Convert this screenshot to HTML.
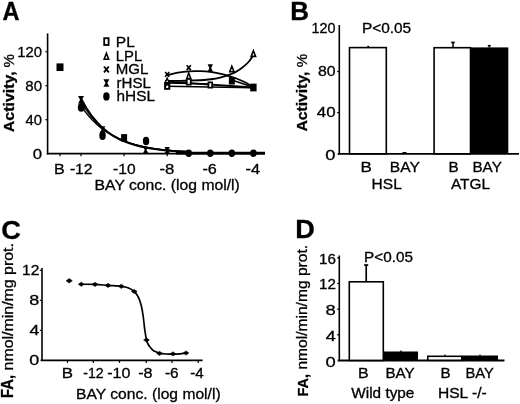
<!DOCTYPE html><html><head><meta charset="utf-8"><title>Figure</title><style>html,body{margin:0;padding:0;background:#fff}svg{display:block}text{fill:#000;stroke:#000;stroke-width:0.3px}</style></head><body>
<svg width="520" height="404" viewBox="0 0 520 404" font-family="Liberation Sans, Arial, sans-serif">
<rect width="520" height="404" fill="#fff"/>
<text x="2.60" y="20" font-size="25" textLength="17.00" lengthAdjust="spacingAndGlyphs" font-weight="bold">A</text>
<line x1="47.6" y1="33.4" x2="47.6" y2="154.5" stroke="#000" stroke-width="1.6"/>
<line x1="46.800000000000004" y1="153.7" x2="265" y2="153.7" stroke="#000" stroke-width="1.8"/>
<line x1="45.4" y1="119.69999999999999" x2="47.6" y2="119.69999999999999" stroke="#000" stroke-width="1.2"/>
<line x1="45.4" y1="85.69999999999999" x2="47.6" y2="85.69999999999999" stroke="#000" stroke-width="1.2"/>
<line x1="45.4" y1="51.69999999999999" x2="47.6" y2="51.69999999999999" stroke="#000" stroke-width="1.2"/>
<text x="17.18" y="57.0" font-size="15.2" textLength="24.82" lengthAdjust="spacingAndGlyphs">120</text>
<text x="25.29" y="90.7" font-size="15.2" textLength="16.72" lengthAdjust="spacingAndGlyphs">80</text>
<text x="25.54" y="124.7" font-size="15.2" textLength="16.46" lengthAdjust="spacingAndGlyphs">40</text>
<text x="32.69" y="158.8" font-size="15.2" textLength="9.32" lengthAdjust="spacingAndGlyphs">0</text>
<line x1="60" y1="153.7" x2="60" y2="156.29999999999998" stroke="#000" stroke-width="1.2"/>
<line x1="81.0" y1="153.7" x2="81.0" y2="156.29999999999998" stroke="#000" stroke-width="1.2"/>
<line x1="124.1" y1="153.7" x2="124.1" y2="156.29999999999998" stroke="#000" stroke-width="1.2"/>
<line x1="167.2" y1="153.7" x2="167.2" y2="156.29999999999998" stroke="#000" stroke-width="1.2"/>
<line x1="210.3" y1="153.7" x2="210.3" y2="156.29999999999998" stroke="#000" stroke-width="1.2"/>
<line x1="253.4" y1="153.7" x2="253.4" y2="156.29999999999998" stroke="#000" stroke-width="1.2"/>
<text x="54.10" y="173.6" font-size="15" textLength="10.70" lengthAdjust="spacingAndGlyphs">B</text>
<text x="69.90" y="173.6" font-size="15" textLength="22.70" lengthAdjust="spacingAndGlyphs">-12</text>
<text x="113.10" y="173.6" font-size="15" textLength="22.50" lengthAdjust="spacingAndGlyphs">-10</text>
<text x="159.40" y="173.6" font-size="15" textLength="14.90" lengthAdjust="spacingAndGlyphs">-8</text>
<text x="202.40" y="173.6" font-size="15" textLength="14.40" lengthAdjust="spacingAndGlyphs">-6</text>
<text x="245.60" y="173.6" font-size="15" textLength="14.50" lengthAdjust="spacingAndGlyphs">-4</text>
<text x="94.60" y="190.2" font-size="15" textLength="145.20" lengthAdjust="spacingAndGlyphs">BAY conc. (log mol/l)</text>
<text x="13.7" y="132.20" font-size="15.2" textLength="60.82" lengthAdjust="spacingAndGlyphs" font-weight="bold" transform="rotate(-90 13.7 132.20)">Activity,</text>
<text x="13.7" y="67.38" font-size="14.6" textLength="13.36" lengthAdjust="spacingAndGlyphs" transform="rotate(-90 13.7 67.38)">%</text>
<rect x="104.20" y="38.20" width="4.40" height="6.80" fill="#fff" stroke="#000" stroke-width="1.8"/>
<path d="M106.4 53.28 L108.64 59.20 L104.16 59.20 Z" fill="#fff" stroke="#000" stroke-width="1.6" stroke-linejoin="miter"/>
<path d="M104.00 66.50 L108.80 72.30 M108.80 66.50 L104.00 72.30" stroke="#000" stroke-width="1.9" fill="none"/>
<path d="M103.40 79.20 L109.40 79.20 L107.30 83 L109.40 86.80 L103.40 86.80 L105.50 83 Z" fill="#000"/>
<ellipse cx="106.4" cy="96.4" rx="3.2" ry="4.2" fill="#000"/>
<text x="115.79" y="46.9" font-size="15.2" textLength="19.02" lengthAdjust="spacingAndGlyphs">PL</text>
<text x="115.79" y="60.5" font-size="15.2" textLength="26.42" lengthAdjust="spacingAndGlyphs">LPL</text>
<text x="115.79" y="74.0" font-size="15.2" textLength="32.62" lengthAdjust="spacingAndGlyphs">MGL</text>
<text x="116.59" y="87.5" font-size="15.2" textLength="34.32" lengthAdjust="spacingAndGlyphs">rHSL</text>
<text x="116.59" y="101.0" font-size="15.2" textLength="38.42" lengthAdjust="spacingAndGlyphs">hHSL</text>
<rect x="56.50" y="63.40" width="7" height="7.6" fill="#000"/>
<path d="M81.0 98.4 L86.4 108.1 L91.8 116.0 L97.2 122.5 L102.5 127.9 L107.9 132.3 L113.3 136.0 L118.7 139.0 L124.1 141.4 L129.5 143.4 L134.9 145.1 L140.3 146.5 L145.7 147.6 L151.0 148.5 L156.4 149.3 L161.8 149.9 L167.2 150.4 L172.6 150.9 L178.0 151.2 L183.4 151.5 L188.8 151.7" fill="none" stroke="#000" stroke-width="2.0" stroke-linecap="round" stroke-linejoin="round"/>
<path d="M81.0 106.1 L86.4 113.3 L91.8 119.5 L97.2 124.7 L102.5 129.1 L107.9 132.8 L113.3 136.0 L118.7 138.7 L124.1 141.0 L129.5 142.9 L134.9 144.6 L140.3 145.9 L145.7 147.1 L151.0 148.1 L156.4 149.0 L161.8 149.7 L167.2 150.3 L172.6 150.8 L178.0 151.3 L183.4 151.6 L188.8 151.9" fill="none" stroke="#000" stroke-width="1.4" stroke-linecap="round" stroke-linejoin="round"/>
<path d="M81.0 102.3 L86.4 110.5 L91.8 117.3 L97.2 123.1 L102.5 127.9 L107.9 132.0 L113.3 135.4 L118.7 138.3 L124.1 140.7 L129.5 142.7 L134.9 144.4 L140.3 145.8 L145.7 147.0 L151.0 148.0 L156.4 148.9 L161.8 149.6 L167.2 150.2 L172.6 150.7 L178.0 151.1 L183.4 151.4 L188.8 151.7" fill="none" stroke="#000" stroke-width="1.2" stroke-linecap="round" stroke-linejoin="round"/>
<line x1="175.82" y1="153.1" x2="265" y2="153.1" stroke="#000" stroke-width="2.8"/>
<path d="M78.00 96.02 L84.00 96.02 L81.90 99.725 L84.00 103.42 L78.00 103.42 L80.10 99.725 Z" fill="#000"/>
<ellipse cx="81.3" cy="107.375" rx="3.5" ry="4.3" fill="#000"/>
<path d="M99.75 126.17 L105.35 126.17 L103.45 129.475 L105.35 132.78 L99.75 132.78 L101.65 129.475 Z" fill="#000"/>
<ellipse cx="102.55" cy="135.42499999999998" rx="3.2" ry="4.6" fill="#000"/>
<rect x="121.10" y="134.10" width="6" height="7.4" fill="#000"/>
<ellipse cx="146.05" cy="140.95" rx="3.2" ry="4.2" fill="#000"/>
<path d="M143.05 146.68 L148.25 146.68 L146.55 149.875 L148.25 153.07 L143.05 153.07 L144.75 149.875 Z" fill="#000"/>
<path d="M164.50 147.00 L169.90 147.00 L168.10 150.29999999999998 L169.90 153.60 L164.50 153.60 L166.30 150.29999999999998 Z" fill="#000"/>
<ellipse cx="188.75" cy="153.19" rx="3.3" ry="3.7" fill="#000"/>
<ellipse cx="210.3" cy="153.19" rx="3.3" ry="3.7" fill="#000"/>
<ellipse cx="231.85" cy="153.19" rx="3.3" ry="3.7" fill="#000"/>
<ellipse cx="253.4" cy="153.19" rx="3.3" ry="3.7" fill="#000"/>
<path d="M167.2 81.6 L253.4 87.5" fill="none" stroke="#000" stroke-width="1.8" stroke-linecap="round" stroke-linejoin="round"/>
<path d="M167.2 83.0 L210.3 84.0" fill="none" stroke="#000" stroke-width="1.6" stroke-linecap="round" stroke-linejoin="round"/>
<path d="M167.2 86.3 L253.4 87.8" fill="none" stroke="#000" stroke-width="1.4" stroke-linecap="round" stroke-linejoin="round"/>
<path d="M231.8 80.0 L253.4 87.2" fill="none" stroke="#000" stroke-width="1.6" stroke-linecap="round" stroke-linejoin="round"/>
<path d="M167.40 75.20 C169.17 74.77 174.40 73.25 178.00 72.60 C181.60 71.95 185.33 71.53 189.00 71.30 C192.67 71.07 196.17 71.05 200.00 71.20 C203.83 71.35 208.50 71.77 212.00 72.20 C215.50 72.63 218.38 73.23 221.00 73.80 C223.62 74.37 225.20 74.83 227.70 75.60 C230.20 76.37 233.18 77.33 236.00 78.40 C238.82 79.47 241.77 80.57 244.60 82.00 C247.43 83.43 251.60 86.17 253.00 87.00" fill="none" stroke="#000" stroke-width="1.7" stroke-linecap="round" stroke-linejoin="round"/>
<path d="M166.00 80.80 C168.33 80.80 175.67 80.85 180.00 80.80 C184.33 80.75 188.00 80.63 192.00 80.50 C196.00 80.37 200.50 80.25 204.00 80.00 C207.50 79.75 210.17 79.43 213.00 79.00 C215.83 78.57 218.55 78.00 221.00 77.40 C223.45 76.80 225.45 76.20 227.70 75.40 C229.95 74.60 232.38 73.67 234.50 72.60 C236.62 71.53 238.65 70.20 240.40 69.00 C242.15 67.80 243.58 66.65 245.00 65.40 C246.42 64.15 247.82 62.73 248.90 61.50 C249.98 60.27 250.75 59.17 251.50 58.00 C252.25 56.83 253.08 55.08 253.40 54.50" fill="none" stroke="#000" stroke-width="1.8" stroke-linecap="round" stroke-linejoin="round"/>
<path d="M165.10 72.00 L169.30 76.80 M169.30 72.00 L165.10 76.80" stroke="#000" stroke-width="1.7" fill="none"/>
<path d="M186.65 65.30 L190.85 70.10 M190.85 65.30 L186.65 70.10" stroke="#000" stroke-width="1.7" fill="none"/>
<path d="M207.60 64.30 L213.00 64.30 L211.20 68 L213.00 71.70 L207.60 71.70 L209.40 68 Z" fill="#000"/>
<path d="M167.2 78.20 L169.20 82.65 L165.20 82.65 Z" fill="#fff" stroke="#000" stroke-width="1.5" stroke-linejoin="miter"/>
<path d="M188.75 73.00 L190.75 78.45 L186.75 78.45 Z" fill="#fff" stroke="#000" stroke-width="1.5" stroke-linejoin="miter"/>
<path d="M231.85 66.18 L233.99 71.70 L229.71 71.70 Z" fill="#fff" stroke="#000" stroke-width="1.6" stroke-linejoin="miter"/>
<path d="M253.4 50.68 L255.64 56.40 L251.16 56.40 Z" fill="#fff" stroke="#000" stroke-width="1.6" stroke-linejoin="miter"/>
<rect x="164.10" y="82.20" width="6.2" height="7.6" fill="#000"/>
<rect x="166.20" y="85.6" width="2" height="2.4" fill="#fff"/>
<rect x="186.80" y="78.95" width="3.90" height="5.70" fill="#fff" stroke="#000" stroke-width="1.7"/>
<rect x="208.45" y="82.35" width="3.70" height="5.30" fill="#fff" stroke="#000" stroke-width="1.7"/>
<rect x="228.85" y="77.10" width="6" height="7.4" fill="#000"/>
<rect x="250.20" y="83.60" width="6.4" height="7.8" fill="#000"/>
<text x="290.25" y="20" font-size="25" textLength="18.75" lengthAdjust="spacingAndGlyphs" font-weight="bold">B</text>
<line x1="339.3" y1="25" x2="339.3" y2="154.60000000000002" stroke="#000" stroke-width="1.6"/>
<line x1="337.7" y1="153.8" x2="519" y2="153.8" stroke="#000" stroke-width="1.8"/>
<line x1="337.1" y1="112.66000000000001" x2="339.3" y2="112.66000000000001" stroke="#000" stroke-width="1.2"/>
<line x1="337.1" y1="71.52000000000001" x2="339.3" y2="71.52000000000001" stroke="#000" stroke-width="1.2"/>
<text x="311.64" y="32.7" font-size="14.3" textLength="23.93" lengthAdjust="spacingAndGlyphs">120</text>
<text x="317.94" y="76.0" font-size="14.3" textLength="17.63" lengthAdjust="spacingAndGlyphs">80</text>
<text x="316.74" y="116.9" font-size="14.3" textLength="18.83" lengthAdjust="spacingAndGlyphs">40</text>
<text x="325.34" y="159.9" font-size="14.3" textLength="10.23" lengthAdjust="spacingAndGlyphs">0</text>
<rect x="349.5" y="47.6" width="36.8" height="106.2" fill="#fff" stroke="#000" stroke-width="1.6"/>
<line x1="368.2" y1="45.8" x2="368.2" y2="47.6" stroke="#000" stroke-width="1.8"/>
<rect x="434.1" y="47.7" width="36.4" height="106.1" fill="#fff" stroke="#000" stroke-width="1.6"/>
<rect x="470.3" y="47.4" width="38" height="106.4" fill="#000"/>
<line x1="453" y1="42" x2="453" y2="47.5" stroke="#000" stroke-width="1.5"/>
<line x1="451.2" y1="42.4" x2="454.8" y2="42.4" stroke="#000" stroke-width="1.6"/>
<line x1="489.3" y1="45.4" x2="489.3" y2="47.5" stroke="#000" stroke-width="1.5"/>
<line x1="487.8" y1="45.6" x2="490.8" y2="45.6" stroke="#000" stroke-width="1.4"/>
<line x1="402.5" y1="152.5" x2="406.5" y2="152.5" stroke="#000" stroke-width="1.0"/>
<text x="361.94" y="32.9" font-size="14.4" textLength="49.24" lengthAdjust="spacingAndGlyphs">P&lt;0.05</text>
<text x="360.44" y="171.5" font-size="14.4" textLength="11.34" lengthAdjust="spacingAndGlyphs">B</text>
<text x="389.74" y="171.5" font-size="14.4" textLength="30.06" lengthAdjust="spacingAndGlyphs">BAY</text>
<text x="448.64" y="171.5" font-size="14.4" textLength="10.14" lengthAdjust="spacingAndGlyphs">B</text>
<text x="472.44" y="171.5" font-size="14.4" textLength="29.36" lengthAdjust="spacingAndGlyphs">BAY</text>
<text x="371.64" y="189.0" font-size="14.4" textLength="30.14" lengthAdjust="spacingAndGlyphs">HSL</text>
<text x="451.00" y="189.0" font-size="14.4" textLength="39.08" lengthAdjust="spacingAndGlyphs">ATGL</text>
<text x="306.6" y="131.50" font-size="15.2" textLength="59.82" lengthAdjust="spacingAndGlyphs" font-weight="bold" transform="rotate(-90 306.6 131.50)">Activity,</text>
<text x="306.6" y="67.18" font-size="14.6" textLength="13.36" lengthAdjust="spacingAndGlyphs" transform="rotate(-90 306.6 67.18)">%</text>
<text x="1.35" y="238.6" font-size="25" textLength="19.65" lengthAdjust="spacingAndGlyphs" font-weight="bold">C</text>
<line x1="42" y1="268" x2="42" y2="361.1" stroke="#000" stroke-width="1.6"/>
<line x1="40.6" y1="360.3" x2="202.6" y2="360.3" stroke="#000" stroke-width="1.8"/>
<line x1="39.8" y1="330.3" x2="42" y2="330.3" stroke="#000" stroke-width="1.2"/>
<line x1="39.8" y1="300.3" x2="42" y2="300.3" stroke="#000" stroke-width="1.2"/>
<line x1="39.8" y1="270.3" x2="42" y2="270.3" stroke="#000" stroke-width="1.2"/>
<text x="22.05" y="274.7" font-size="14.4" textLength="17.33" lengthAdjust="spacingAndGlyphs">12</text>
<text x="29.34" y="304.9" font-size="14.4" textLength="10.04" lengthAdjust="spacingAndGlyphs">8</text>
<text x="29.57" y="334.8" font-size="14.4" textLength="9.81" lengthAdjust="spacingAndGlyphs">4</text>
<text x="29.34" y="365.4" font-size="14.4" textLength="10.04" lengthAdjust="spacingAndGlyphs">0</text>
<line x1="67.5" y1="360.3" x2="67.5" y2="362.90000000000003" stroke="#000" stroke-width="1.2"/>
<line x1="93.3" y1="360.3" x2="93.3" y2="362.90000000000003" stroke="#000" stroke-width="1.2"/>
<line x1="119.5" y1="360.3" x2="119.5" y2="362.90000000000003" stroke="#000" stroke-width="1.2"/>
<line x1="146.2" y1="360.3" x2="146.2" y2="362.90000000000003" stroke="#000" stroke-width="1.2"/>
<line x1="172" y1="360.3" x2="172" y2="362.90000000000003" stroke="#000" stroke-width="1.2"/>
<line x1="198.2" y1="360.3" x2="198.2" y2="362.90000000000003" stroke="#000" stroke-width="1.2"/>
<text x="61.74" y="377.8" font-size="14.4" textLength="11.24" lengthAdjust="spacingAndGlyphs">B</text>
<text x="83.22" y="377.8" font-size="14.4" textLength="20.35" lengthAdjust="spacingAndGlyphs">-12</text>
<text x="107.22" y="377.8" font-size="14.4" textLength="23.35" lengthAdjust="spacingAndGlyphs">-10</text>
<text x="138.22" y="377.8" font-size="14.4" textLength="14.35" lengthAdjust="spacingAndGlyphs">-8</text>
<text x="164.92" y="377.8" font-size="14.4" textLength="13.65" lengthAdjust="spacingAndGlyphs">-6</text>
<text x="190.22" y="377.8" font-size="14.4" textLength="13.55" lengthAdjust="spacingAndGlyphs">-4</text>
<text x="76.10" y="398.5" font-size="15" textLength="144.50" lengthAdjust="spacingAndGlyphs">BAY conc. (log mol/l)</text>
<text x="13.5" y="397.89" font-size="15.6" textLength="22.94" lengthAdjust="spacingAndGlyphs" font-weight="bold" transform="rotate(-90 13.5 397.89)">FA,</text>
<text x="13.5" y="370.38" font-size="14" textLength="127.30" lengthAdjust="spacingAndGlyphs" transform="rotate(-90 13.5 370.38)">nmol/min/mg prot.</text>
<path d="M81.25 284.25 C83.54 284.27 90.54 284.21 95.00 284.40 C99.46 284.59 103.62 285.08 108.00 285.40 C112.38 285.72 117.92 285.90 121.25 286.30 C124.58 286.70 125.83 286.93 128.00 287.80 C130.17 288.67 132.58 290.05 134.25 291.50 C135.92 292.95 137.04 294.88 138.00 296.50 C138.96 298.12 139.37 299.33 140.00 301.25 C140.63 303.17 141.30 305.71 141.80 308.00 C142.30 310.29 142.63 312.50 143.00 315.00 C143.37 317.50 143.70 320.50 144.00 323.00 C144.30 325.50 144.38 327.17 144.80 330.00 C145.22 332.83 145.97 337.67 146.50 340.00 C147.03 342.33 147.42 342.83 148.00 344.00 C148.58 345.17 149.25 346.03 150.00 347.00 C150.75 347.97 151.67 349.07 152.50 349.80 C153.33 350.53 153.83 350.83 155.00 351.40 C156.17 351.97 157.67 352.77 159.50 353.20 C161.33 353.63 163.83 353.83 166.00 354.00 C168.17 354.17 170.17 354.23 172.50 354.20 C174.83 354.17 177.75 354.00 180.00 353.80 C182.25 353.60 185.00 353.13 186.00 353.00" fill="none" stroke="#000" stroke-width="1.7" stroke-linecap="round" stroke-linejoin="round"/>
<path d="M66.10000000000001 280.8 L69.2 278.6 L72.3 280.8 L69.2 283.0 Z" fill="#000" stroke="#000" stroke-width="0.6" stroke-linejoin="round"/>
<path d="M78.35 284.25 L81.25 282.15 L84.15 284.25 L81.25 286.35 Z" fill="#000" stroke="#000" stroke-width="0.6" stroke-linejoin="round"/>
<path d="M92.1 284.4 L95 282.29999999999995 L97.9 284.4 L95 286.5 Z" fill="#000" stroke="#000" stroke-width="0.6" stroke-linejoin="round"/>
<path d="M105.1 285.4 L108 283.29999999999995 L110.9 285.4 L108 287.5 Z" fill="#000" stroke="#000" stroke-width="0.6" stroke-linejoin="round"/>
<path d="M118.35 286.3 L121.25 284.2 L124.15 286.3 L121.25 288.40000000000003 Z" fill="#000" stroke="#000" stroke-width="0.6" stroke-linejoin="round"/>
<path d="M131.35 291.5 L134.25 289.4 L137.15 291.5 L134.25 293.6 Z" fill="#000" stroke="#000" stroke-width="0.6" stroke-linejoin="round"/>
<path d="M143.6 340 L146.5 337.9 L149.4 340 L146.5 342.1 Z" fill="#000" stroke="#000" stroke-width="0.6" stroke-linejoin="round"/>
<path d="M156.6 353.4 L159.5 351.29999999999995 L162.4 353.4 L159.5 355.5 Z" fill="#000" stroke="#000" stroke-width="0.6" stroke-linejoin="round"/>
<path d="M170.1 353.9 L173 351.79999999999995 L175.9 353.9 L173 356.0 Z" fill="#000" stroke="#000" stroke-width="0.6" stroke-linejoin="round"/>
<path d="M183.1 353 L186 350.9 L188.9 353 L186 355.1 Z" fill="#000" stroke="#000" stroke-width="0.6" stroke-linejoin="round"/>
<text x="295.25" y="238" font-size="25" textLength="19.55" lengthAdjust="spacingAndGlyphs" font-weight="bold">D</text>
<line x1="339.3" y1="255.5" x2="339.3" y2="361.2" stroke="#000" stroke-width="1.6"/>
<line x1="337.7" y1="360.4" x2="504.5" y2="360.4" stroke="#000" stroke-width="2.0"/>
<line x1="337.1" y1="334.76" x2="339.3" y2="334.76" stroke="#000" stroke-width="1.2"/>
<line x1="337.1" y1="309.12" x2="339.3" y2="309.12" stroke="#000" stroke-width="1.2"/>
<line x1="337.1" y1="283.47999999999996" x2="339.3" y2="283.47999999999996" stroke="#000" stroke-width="1.2"/>
<line x1="337.1" y1="257.84" x2="339.3" y2="257.84" stroke="#000" stroke-width="1.2"/>
<text x="319.05" y="263.9" font-size="14.4" textLength="16.93" lengthAdjust="spacingAndGlyphs">16</text>
<text x="319.05" y="289.3" font-size="14.4" textLength="16.93" lengthAdjust="spacingAndGlyphs">12</text>
<text x="325.54" y="315" font-size="14.4" textLength="10.24" lengthAdjust="spacingAndGlyphs">8</text>
<text x="325.77" y="340.7" font-size="14.4" textLength="10.01" lengthAdjust="spacingAndGlyphs">4</text>
<text x="325.54" y="366.6" font-size="14.4" textLength="10.24" lengthAdjust="spacingAndGlyphs">0</text>
<rect x="349.3" y="281.8" width="34" height="78.6" fill="#fff" stroke="#000" stroke-width="1.6"/>
<line x1="366.2" y1="264.6" x2="366.2" y2="281.8" stroke="#000" stroke-width="1.7"/>
<line x1="364.2" y1="265.1" x2="368.2" y2="265.1" stroke="#000" stroke-width="1.8"/>
<rect x="383.2" y="351.5" width="34.8" height="9" fill="#000"/>
<line x1="401" y1="350.6" x2="401" y2="352" stroke="#000" stroke-width="1.4"/>
<rect x="427.8" y="356.3" width="34" height="4" fill="#fff" stroke="#000" stroke-width="1.6"/>
<rect x="462" y="355.5" width="36" height="5" fill="#000"/>
<line x1="445" y1="354.6" x2="445" y2="356" stroke="#000" stroke-width="1.2"/>
<line x1="480" y1="354.4" x2="480" y2="356" stroke="#000" stroke-width="1.2"/>
<text x="364.14" y="261.6" font-size="14.4" textLength="48.94" lengthAdjust="spacingAndGlyphs">P&lt;0.05</text>
<text x="357.94" y="377.8" font-size="14.4" textLength="10.64" lengthAdjust="spacingAndGlyphs">B</text>
<text x="385.44" y="377.8" font-size="14.4" textLength="29.16" lengthAdjust="spacingAndGlyphs">BAY</text>
<text x="440.44" y="377.8" font-size="14.4" textLength="10.14" lengthAdjust="spacingAndGlyphs">B</text>
<text x="465.44" y="377.8" font-size="14.4" textLength="28.36" lengthAdjust="spacingAndGlyphs">BAY</text>
<text x="351.30" y="397.8" font-size="14.4" textLength="63.08" lengthAdjust="spacingAndGlyphs">Wild type</text>
<text x="437.94" y="397.8" font-size="14.4" textLength="48.84" lengthAdjust="spacingAndGlyphs">HSL -/-</text>
<text x="308" y="396.62" font-size="14.6" textLength="22.59" lengthAdjust="spacingAndGlyphs" font-weight="bold" transform="rotate(-90 308 396.62)">FA,</text>
<text x="307.3" y="369.58" font-size="14" textLength="124.70" lengthAdjust="spacingAndGlyphs" transform="rotate(-90 307.3 369.58)">nmol/min/mg prot.</text>
</svg></body></html>
